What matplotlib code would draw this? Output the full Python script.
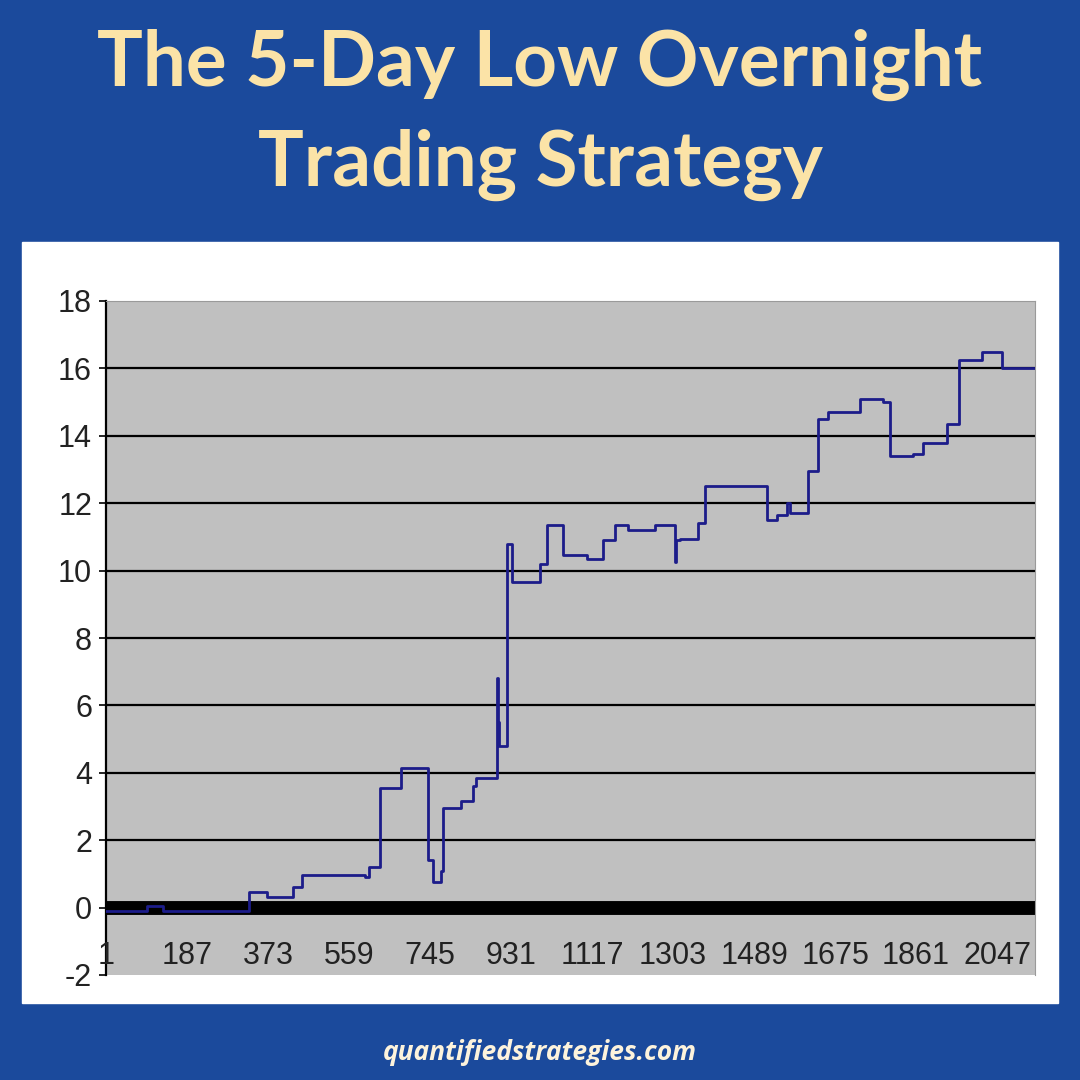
import numpy as np
from matplotlib import pyplot as plt
import matplotlib.patches as patches

# trade index where equity steps, and the new level
step_idx = [1, 95, 132, 329, 371, 430, 451, 596, 605, 630, 678, 740, 752, 770,
            775, 816, 844, 850, 899, 901, 903, 922, 933, 997, 1014, 1050, 1105,
            1142, 1170, 1200, 1262, 1307, 1309, 1319, 1360, 1376, 1519, 1542,
            1565, 1571, 1613, 1636, 1659, 1732, 1785, 1801, 1854, 1877, 1932,
            1960, 2012, 2058, 2134]
step_val = [-0.1, 0.05, -0.1, 0.45, 0.3, 0.6, 0.98, 0.9, 1.2, 3.55, 4.15, 1.42,
            0.75, 1.1, 2.95, 3.15, 3.6, 3.85, 6.8, 5.5, 4.8, 10.8, 9.65, 10.2,
            11.35, 10.45, 10.35, 10.9, 11.35, 11.2, 11.35, 10.25, 10.9, 10.95,
            11.4, 12.5, 11.5, 11.65, 12.0, 11.7, 12.95, 14.5, 14.7, 15.1, 15.0,
            13.4, 13.45, 13.8, 14.35, 16.25, 16.5, 16.0, 16.0]

x_ticks = [1, 187, 373, 559, 745, 931, 1117, 1303, 1489, 1675, 1861, 2047]
y_ticks = list(range(-2, 19, 2))

blue = '#1b4a9c'
cream = '#fbe3a7'

fig = plt.figure(figsize=(10.8, 10.8), dpi=100, facecolor=blue)

# white card behind the chart
fig.patches.append(patches.Rectangle((22/1080, 1-1003/1080), 1036/1080, 761/1080,
                                     transform=fig.transFigure, color='white', zorder=-5))

fig.text(0.5, 1-65/1080, 'The 5-Day Low Overnight', ha='center', va='center',
         fontsize=55, fontweight='bold', color=cream, family='Lato')
fig.text(0.5, 1-165/1080, 'Trading Strategy', ha='center', va='center',
         fontsize=55, fontweight='bold', color=cream, family='Lato')
fig.text(0.5, 1-1053/1080, 'quantifiedstrategies.com', ha='center', va='center',
         fontsize=19, fontweight='bold', style='italic', color='#fdf3dc', family='Open Sans')

ax = fig.add_axes([106/1080, 1-975/1080, 929/1080, 674/1080], zorder=2)
ax.set_facecolor('#c0c0c0')
ax.set_xlim(1, 2134)
ax.set_ylim(-2, 18)

for v in y_ticks:
    if v not in (-2, 0, 18):
        ax.axhline(v, color='black', lw=1.6, zorder=1)
ax.axhline(0, color='black', lw=10, zorder=2)

ax.step(step_idx, step_val, where='post', color='#1c1c8a', lw=2, zorder=3)

ax.set_yticks(y_ticks)
ax.set_yticklabels([str(v) for v in y_ticks], family='Liberation Sans', fontsize=22, color='#222222')
ax.tick_params(axis='y', direction='out', length=5, width=1.2, pad=5)
ax.set_xticks([])
for t in x_ticks:
    ax.text(t, -1.45, str(t), ha='center', va='center', fontsize=22,
            family='Liberation Sans', color='#222222', zorder=4)

for s in ['top', 'right']:
    ax.spines[s].set_color('#9a9a9a')
ax.spines['bottom'].set_visible(False)
ax.spines['left'].set_linewidth(1.6)

fig.savefig('out.png', dpi=100, facecolor=blue)
